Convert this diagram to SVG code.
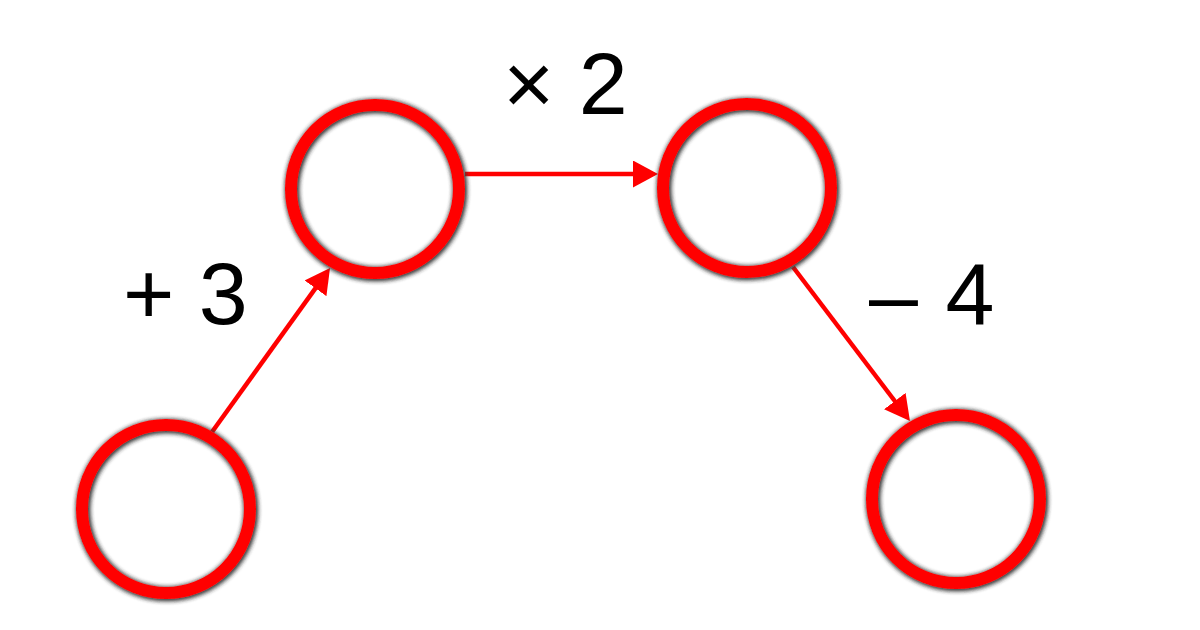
<svg xmlns="http://www.w3.org/2000/svg" width="1200" height="630" viewBox="0 0 1200 630">
  <style>
    .ring { fill: none; stroke: #FF0000; stroke-width: 12; filter: url(#shadow); }
    .edge { fill: none; stroke: #FF0000; stroke-width: 4.5; marker-end: url(#arrow); }
    .label { font-family: "Liberation Sans", Arial, sans-serif; font-size: 88px; fill: #000000; }
  </style>
  <defs>
    <filter id="shadow" x="-20%" y="-20%" width="140%" height="140%">
      <feGaussianBlur in="SourceAlpha" stdDeviation="2.6" result="blur"/>
      <feOffset in="blur" dx="1.2" dy="1.2" result="off"/>
      <feFlood flood-color="#3a3a3a" result="col"/>
      <feComposite in="col" in2="off" operator="in" result="sh"/>
      <feMerge>
        <feMergeNode in="sh"/>
        <feMergeNode in="sh"/>
        <feMergeNode in="SourceGraphic"/>
      </feMerge>
    </filter>
    <marker id="arrow" markerUnits="userSpaceOnUse" markerWidth="26" markerHeight="28" refX="15" refY="13.5" orient="auto" viewBox="0 0 26 28">
      <path d="M0,0 L25,13.5 L0,27 z" fill="#FF0000"/>
    </marker>
  </defs>
  <rect width="1200" height="630" fill="#FFFFFF"/>
  <g id="connectors">
    <path class="edge" d="M212,432 L324.2,276.1"/>
    <path class="edge" d="M465,174 L648,174"/>
    <path class="edge" d="M793,267 L903.9,413"/>
  </g>
  <g id="node1"><circle class="ring" cx="166" cy="509" r="84"/></g>
  <g id="node2"><circle class="ring" cx="375" cy="189" r="84"/></g>
  <g id="node3"><circle class="ring" cx="747" cy="188" r="84"/></g>
  <g id="node4"><circle class="ring" cx="956" cy="499" r="84"/></g>
  <g id="labels">
    <text class="label" x="123" y="324">+ 3</text>
    <text class="label" x="503" y="114">× 2</text>
    <text class="label" x="869" y="325">– <tspan dx="3">4</tspan></text>
  </g>
</svg>
